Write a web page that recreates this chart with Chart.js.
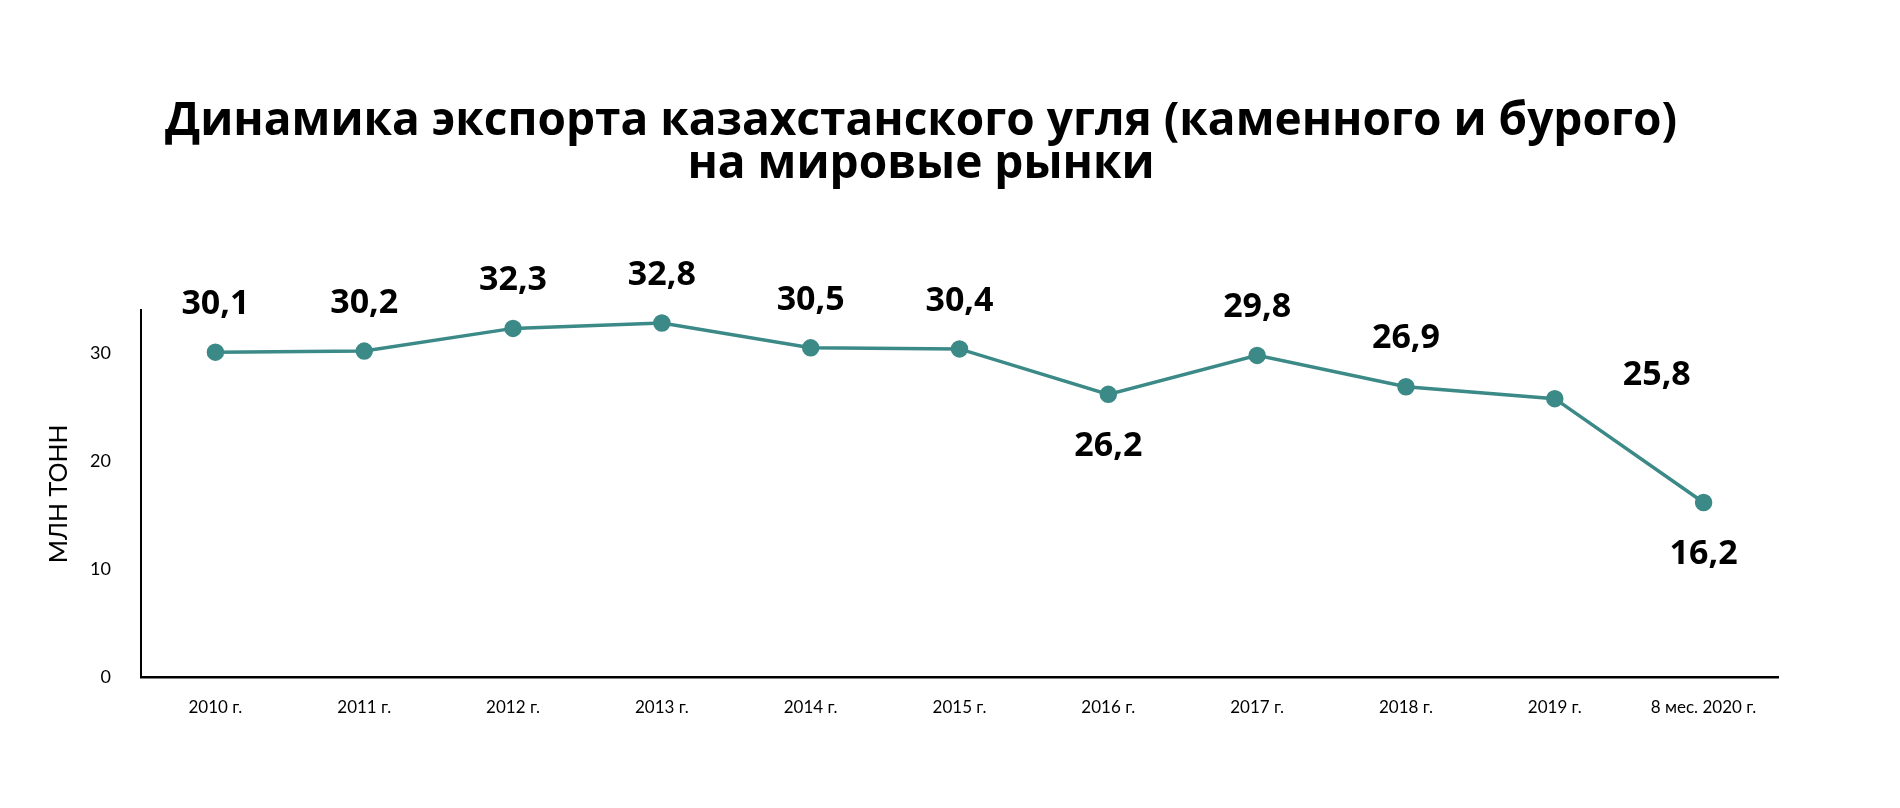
<!DOCTYPE html>
<html><head><meta charset="utf-8">
<script src="https://cdn.jsdelivr.net/npm/chart.js@4"></script>
<style>html,body{margin:0;padding:0;background:#fff}#w{width:1900px;height:808px}</style>
</head><body><div id="w"><canvas id="c"></canvas></div>
<script>
const categories = ["2010 г.","2011 г.","2012 г.","2013 г.","2014 г.","2015 г.","2016 г.","2017 г.","2018 г.","2019 г.","8 мес. 2020 г."];
const exportValues = [30.1,30.2,32.3,32.8,30.5,30.4,26.2,29.8,26.9,25.8,16.2];
const yTicks = [0,10,20,30];
const titleLines = ["Динамика экспорта казахстанского угля (каменного и бурого)","на мировые рынки"];
const yTitle = "МЛН ТОНН";
const below = [6,10];

const labelsPlugin = {
  id:'lbl',
  afterDatasetsDraw(chart){
    const ctx = chart.ctx, meta = chart.getDatasetMeta(0);
    ctx.save();
    ctx.fillStyle = '#000';
    ctx.font = 'bold 34px "Open Sans", sans-serif';
    ctx.textAlign = 'center'; ctx.textBaseline = 'middle';
    meta.data.forEach((p,i)=>{
      const t = exportValues[i].toFixed(1).replace('.',',');
      let x = p.x, y = p.y - 48;
      if (below.includes(i)) y = p.y + 52;
      if (i === 9) { x = p.x + 102; y = p.y - 23; }
      ctx.fillText(t, x, y);
    });
    ctx.font = 'bold 46px "Open Sans", sans-serif';
    ctx.fillText(titleLines[0], 921, 122);
    ctx.fillText(titleLines[1], 921, 165);
    ctx.restore();
  }
};

new Chart(document.getElementById('c'), {
  type:'line',
  data:{labels:categories, datasets:[{data:exportValues, borderColor:'#3b8a87', backgroundColor:'#3b8a87',
    borderWidth:3.5, pointRadius:7, pointHoverRadius:7, tension:0}]},
  options:{
    responsive:true, maintainAspectRatio:false, animation:false,
    layout:{padding:{top:310,left:40,right:122,bottom:70}},
    plugins:{legend:{display:false}, tooltip:{enabled:false}},
    scales:{
      x:{offset:true, grid:{display:false, drawTicks:false}, border:{color:'#000', width:2.5},
         ticks:{color:'#000', padding:20, font:{family:'Lato', size:17}}},
      y:{min:0, max:34, grid:{display:false, drawTicks:false}, border:{color:'#000', width:2},
         afterBuildTicks(s){ s.ticks = yTicks.map(v=>({value:v})); },
         afterFit(s){ s.width = 101; },
         ticks:{color:'#000', padding:30, font:{family:'Lato', size:18}},
         title:{display:true, text:yTitle, color:'#000', font:{family:'Lato', size:25}}}
    }
  },
  plugins:[labelsPlugin]
});
</script></body></html>
